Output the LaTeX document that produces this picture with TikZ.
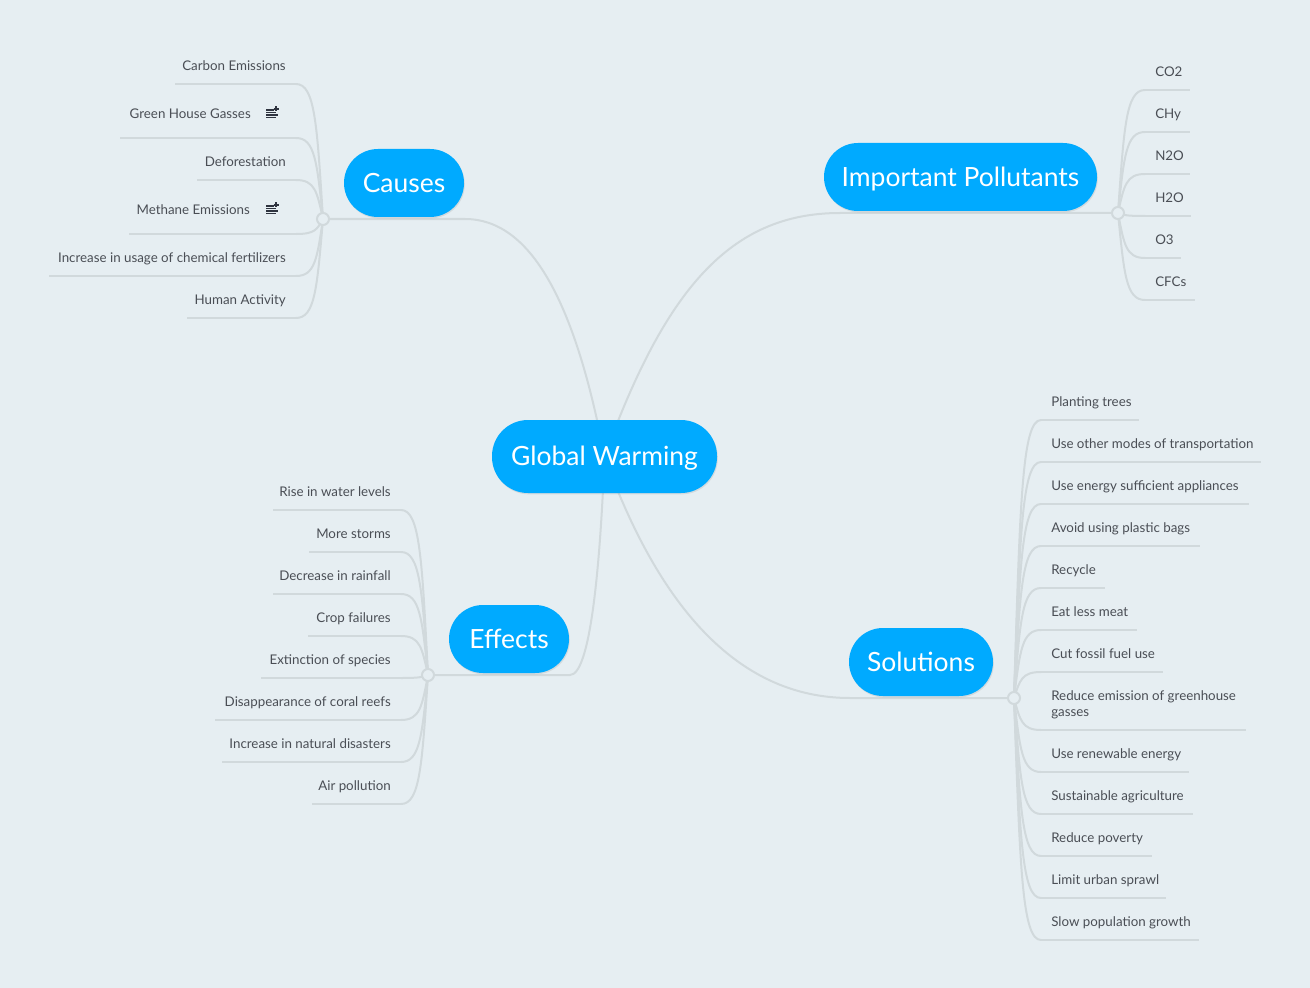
\documentclass[tikz,border=0pt]{standalone}
\usepackage{fontspec}
\setmainfont{Lato}
\usetikzlibrary{shadows,backgrounds}
\definecolor{bgcol}{HTML}{E6EEF2}
\definecolor{linecol}{HTML}{D1D9DC}
\definecolor{topiccol}{HTML}{00AAFF}
\definecolor{leafcol}{HTML}{4A4E55}
\definecolor{iconcol}{HTML}{2F3440}
\tikzset{
  topic/.style={fill=topiccol,text=white,rounded corners=25.5pt,minimum height=51pt,inner sep=0pt,text height=14pt,text depth=0pt,
    font=\fontsize{19.85}{23}\selectfont,drop shadow={opacity=.18,shadow xshift=.6pt,shadow yshift=-1pt}},
  leaf/.style={text=leafcol,inner sep=0pt,font=\fontsize{10}{12}\selectfont,align=left},
  hub/.style={circle,draw=linecol,fill=bgcol,line width=1.5pt,minimum size=9pt,inner sep=0pt},
  branch/.style={draw=linecol,line width=1.5pt},
  noteicon/.pic={
    \draw[iconcol,line width=1pt] (-6.5,-3.5) -- (1,-3.5) (-6.5,-1) -- (3,-1) (-6.5,1.5) -- (5.5,1.5) (-6.5,4) -- (3,4);
    \draw[iconcol,line width=1pt] (3.5,-7) -- (3.5,-2) (1,-4.5) -- (6,-4.5);
  }
}
\newcommand{\twig}[5]{% hub, its x, its y, side, line y
  \pgfmathsetmacro\cy{.7*#5+.3*#3}
  \begin{pgfonlayer}{background}
    \draw[branch] (#1.center) .. controls ({#2+#4*6},\cy) and ({#2+#4*8},#5) .. ({#2+#4*27},#5);
  \end{pgfonlayer}
}
\begin{document}
\begin{tikzpicture}[x=.75pt,y=-.75pt]
  \begin{pgfonlayer}{background}
    \fill[bgcol] (0,0) rectangle (1310,988);
  \end{pgfonlayer}
  \useasboundingbox (0,0) rectangle (1310,988);

  \node[topic,minimum width=168.75pt,minimum height=54.75pt,rounded corners=27pt] (root) at (604.5,456.5) {Global Warming};
  \node[topic,minimum width=90pt] (causes) at (404,183) {Causes};
  \node[topic,minimum width=204.75pt] (pollutants) at (960.5,177) {Important Pollutants};
  \node[topic,minimum width=90pt] (effects) at (509,639) {Effects};
  \node[topic,minimum width=108pt] (solutions) at (921,662) {Solutions};

  \node[hub] (hubc) at (323,219) {};
  \node[hub] (hubp) at (1118,213) {};
  \node[hub] (hube) at (428,675) {};
  \node[hub] (hubs) at (1014,698) {};

  \begin{pgfonlayer}{background}
    \draw[branch] (root.center) .. controls (575,300) and (530,219) .. (465,219) -- (hubc.center);
    \draw[branch] (root.center) .. controls (665,290) and (730,213) .. (840,213) -- (hubp.center);
    \draw[branch] (root.center) .. controls (600,570) and (590,675) .. (570,675) -- (hube.center);
    \draw[branch] (root.center) .. controls (660,610) and (740,698) .. (850,698) -- (hubs.center);
  \end{pgfonlayer}

  \foreach \n/\ty/\ly/\xe/\tx/\txt in {1/70.6/84/175/286/Carbon Emissions,2/118.6/138/120/251/Green House Gasses,3/166.6/180/197/286/Deforestation,4/214.6/234/129/250/Methane Emissions,5/262.4/276/49/286/Increase in usage of chemical fertilizers,6/304.4/318/187/286/Human Activity} {
    \node[leaf,anchor=base east] (cl\n) at (\tx,\ty) {\txt};
    \coordinate (ce\n) at (\xe,\ly);
    \twig{hubc}{323}{219}{-1}{\ly}
    \begin{pgfonlayer}{background}
      \draw[branch] (296,\ly) -- (ce\n);
    \end{pgfonlayer}
  }
  \pic at (272.5,113.5) {noteicon};
  \pic at (272.5,209.5) {noteicon};

  \foreach \n/\ty/\xe/\txt in {1/76.5/1190/CO2,2/118.5/1190/CHy,3/160.5/1190/N2O,4/202.5/1191/H2O,5/244.5/1181/O3,6/286.5/1195/CFCs} {
    \pgfmathsetmacro\ly{\ty+13.5}
    \node[leaf,anchor=base west] (pl\n) at (1155,\ty) {\txt};
    \coordinate (pe\n) at (\xe,\ly);
    \twig{hubp}{1118}{213}{1}{\ly}
    \begin{pgfonlayer}{background}
      \draw[branch] (1145,\ly) -- (pe\n);
    \end{pgfonlayer}
  }

  \foreach \n/\ty/\xe/\txt in {1/496/273/Rise in water levels,2/538/309/More storms,3/580/273/Decrease in rainfall,4/622/308/Crop failures,5/664/261/Extinction of species,6/706/215/Disappearance of coral reefs,7/748/222/Increase in natural disasters,8/790/312/Air pollution} {
    \pgfmathsetmacro\ly{\ty+14}
    \node[leaf,anchor=base east] (el\n) at (391,\ty) {\txt};
    \coordinate (ee\n) at (\xe,\ly);
    \twig{hube}{428}{675}{-1}{\ly}
    \begin{pgfonlayer}{background}
      \draw[branch] (401,\ly) -- (ee\n);
    \end{pgfonlayer}
  }

  \foreach \n/\ty/\ly/\xe/\txt in {1/406/420/1139/Planting trees,2/448/462/1261/Use other modes of transportation,3/490/504/1249/Use energy sufficient appliances,4/532/546/1200/Avoid using plastic bags,5/574/588/1105/Recycle,6/616/630/1137/Eat less meat,7/658/672/1163/Cut fossil fuel use,8/716/730/1246/{Reduce emission of greenhouse\\gasses},9/758/772/1189/Use renewable energy,10/800/814/1193/Sustainable agriculture,11/842/856/1152/Reduce poverty,12/884/898/1166/Limit urban sprawl,13/926/940/1199/Slow population growth} {
    \node[leaf,anchor=base west] (sl\n) at (1051,\ty) {\txt};
    \coordinate (se\n) at (\xe,\ly);
    \twig{hubs}{1014}{698}{1}{\ly}
    \begin{pgfonlayer}{background}
      \draw[branch] (1041,\ly) -- (se\n);
    \end{pgfonlayer}
  }
\end{tikzpicture}
\end{document}
